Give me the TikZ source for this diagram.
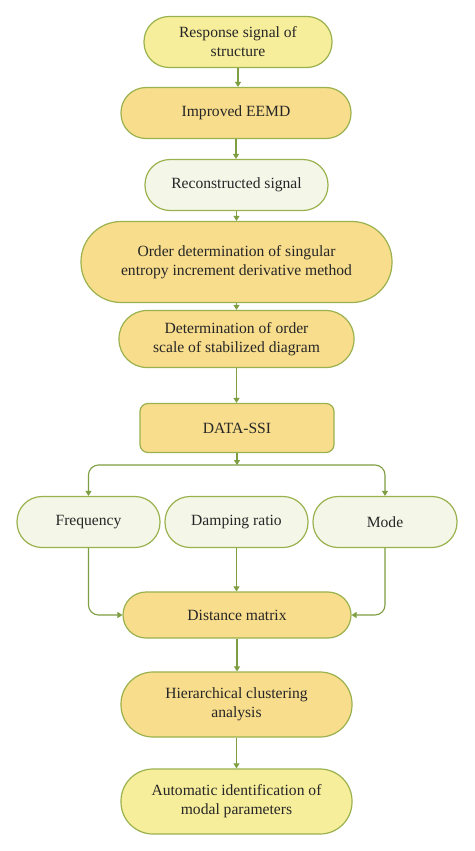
\documentclass[tikz,border=0pt]{standalone}
\usepackage{fontspec}
\setmainfont{Liberation Serif}
\usetikzlibrary{arrows.meta}
\definecolor{bordc}{HTML}{9AB24E}
\definecolor{arrc}{HTML}{7E9E42}
\definecolor{lyel}{HTML}{F7EE9C}
\definecolor{gold}{HTML}{F8DD8D}
\definecolor{pale}{HTML}{F4F6E8}
\definecolor{txt}{HTML}{262626}
\tikzset{
  box/.style={draw=bordc, line width=1.2pt, align=center, text=txt,
    font=\fontsize{15.6}{19}\selectfont, inner sep=2pt},
  arr/.style={draw=arrc, line width=1.1pt, -{Triangle[width=6pt,length=5pt]}},
  ln/.style={draw=arrc, line width=1.1pt}
}
\begin{document}
\begin{tikzpicture}[x=1pt,y=-1pt]
\useasboundingbox[fill=white] (0,0) rectangle (474,851);
\node[box, fill=lyel, minimum width=188pt, minimum height=51pt, rounded corners=25pt] (n1) at (238,42) {Response signal of\\structure};
\node[box, fill=gold, minimum width=230pt, minimum height=51pt, rounded corners=25pt] (n2) at (236,113) {Improved EEMD};
\node[box, fill=pale, minimum width=183pt, minimum height=51pt, rounded corners=25pt] (n3) at (236.5,185) {Reconstructed signal};
\node[box, fill=gold, minimum width=311pt, minimum height=81pt, rounded corners=40pt] (n4) at (236.5,262) {Order determination of singular\\entropy increment derivative method};
\node[box, fill=gold, minimum width=235pt, minimum height=57pt, rounded corners=28pt] (n5) at (236.5,339) {Determination of order\\scale of stabilized diagram};
\node[box, fill=gold, minimum width=194pt, minimum height=49pt, rounded corners=8pt] (n6) at (237,428) {DATA-SSI};
\node[box, fill=pale, minimum width=143pt, minimum height=51pt, rounded corners=25pt] (fr) at (88.5,522) {Frequency};
\node[box, fill=pale, minimum width=143pt, minimum height=51pt, rounded corners=25pt] (dr) at (236.5,522) {Damping ratio};
\node[box, fill=pale, minimum width=144pt, minimum height=51pt, rounded corners=25pt] (mo) at (385,522) {Mode};
\node[box, fill=gold, minimum width=228pt, minimum height=46pt, rounded corners=23pt] (dm) at (237,615) {Distance matrix};
\node[box, fill=gold, minimum width=231pt, minimum height=65pt, rounded corners=32pt] (hc) at (236.5,704.5) {Hierarchical clustering\\analysis};
\node[box, fill=lyel, minimum width=231pt, minimum height=65pt, rounded corners=32pt] (ai) at (236.5,801.5) {Automatic identification of\\modal parameters};
\coordinate (sp) at (237,465);
\draw[arr] (n1.south) -- (n1.south |- n2.north);
\draw[arr] (n2.south) -- (n2.south |- n3.north);
\draw[arr] (n3.south) -- (n3.south |- n4.north);
\draw[arr] (n4.south) -- (n4.south |- n5.north);
\draw[arr] (n5.south) -- (n5.south |- n6.north);
\draw[arr] (n6.south) -- (sp);
\draw[arr, rounded corners=10pt] (sp) -| (fr.north);
\draw[arr, rounded corners=10pt] (sp) -| (mo.north);
\draw[arr] (dr.south) -- (dr.south |- dm.north);
\draw[arr, rounded corners=10pt] (fr.south) |- (dm.west);
\draw[arr, rounded corners=10pt] (mo.south) |- (dm.east);
\draw[arr] (dm.south) -- (dm.south |- hc.north);
\draw[arr] (hc.south) -- (hc.south |- ai.north);
\end{tikzpicture}
\end{document}
